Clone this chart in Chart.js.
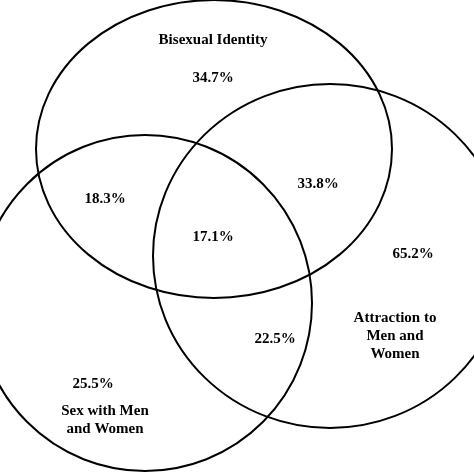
<!DOCTYPE html>
<html><head><meta charset="utf-8">
<script src="https://cdn.jsdelivr.net/npm/chart.js@4"></script>
<style>html,body{margin:0;padding:0;background:#fff}#w{width:474px;height:474px}</style>
</head><body><div id="w"><canvas id="c"></canvas></div>
<script>
const setNames = ["Bisexual Identity", "Attraction to\nMen and\nWomen", "Sex with Men\nand Women"];
const regionLabels = ["34.7%", "18.3%", "17.1%", "33.8%", "65.2%", "22.5%", "25.5%"];
// layout (pixel-space coordinates in a 474x474 frame)
const ellipses = [[214,149,178,149],[330,256,177,172],[145,303,167,168]];
const regionPos = [[213,78],[105,199],[213,237],[318,184],[413,254],[275,339],[93,384]];
const namePos = [[213,40],[395,318],[105,411]];

const venn = {
  id:'venn',
  afterDraw(chart){
    const {ctx, scales:{x,y}} = chart;
    ctx.save();
    ctx.strokeStyle='#000'; ctx.lineWidth=2;
    ellipses.forEach(([cx,cy,rx,ry])=>{
      const px=x.getPixelForValue(cx), py=y.getPixelForValue(cy);
      const prx=Math.abs(x.getPixelForValue(cx+rx)-px), pry=Math.abs(y.getPixelForValue(cy+ry)-py);
      ctx.beginPath(); ctx.ellipse(px,py,prx,pry,0,0,Math.PI*2); ctx.stroke();
    });
    ctx.fillStyle='#000'; ctx.textAlign='center'; ctx.textBaseline='middle';
    ctx.font='bold 15px "Liberation Serif", "Times New Roman", serif';
    regionLabels.forEach((t,i)=>ctx.fillText(t,x.getPixelForValue(regionPos[i][0]),y.getPixelForValue(regionPos[i][1])));
    setNames.forEach((t,i)=>{
      t.split('\n').forEach((line,j)=>ctx.fillText(line,x.getPixelForValue(namePos[i][0]),y.getPixelForValue(namePos[i][1]+j*18)));
    });
    ctx.restore();
  }
};
new Chart(document.getElementById('c'),{
  type:'scatter',
  data:{datasets:[{data:[],pointRadius:0}]},
  options:{responsive:true,maintainAspectRatio:false,animation:false,
    layout:{padding:0},
    plugins:{legend:{display:false},tooltip:{enabled:false}},
    scales:{x:{display:false,min:0,max:474},y:{display:false,min:0,max:474,reverse:true}}},
  plugins:[venn]
});
</script></body></html>
